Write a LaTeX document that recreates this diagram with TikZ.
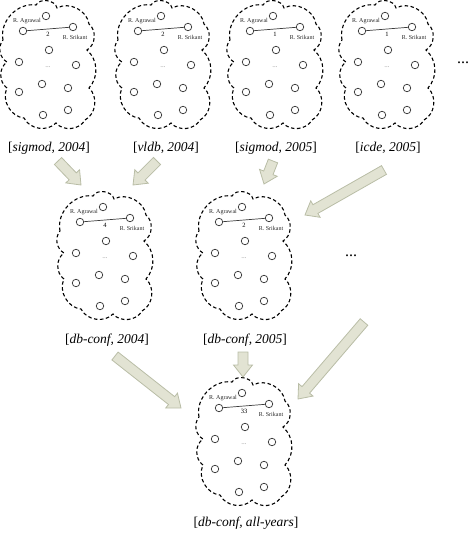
\documentclass[tikz,border=0pt]{standalone}
\usepackage{fontspec}
\setmainfont{Liberation Serif}
\usetikzlibrary{calc}
\definecolor{arrfill}{RGB}{226,227,211}
\definecolor{arrdraw}{RGB}{185,189,166}
\definecolor{nodegray}{RGB}{60,60,60}
\tikzset{
 vert/.style={circle,draw=nodegray,line width=0.75pt,inner sep=0pt,minimum size=7.5pt},
 cloudline/.style={draw=black,line width=1.1pt,dash pattern=on 3.5pt off 2.5pt},
 namelbl/.style={font=\fontsize{6}{6}\selectfont,text=black!85,inner sep=0pt},
 wlbl/.style={font=\fontsize{6.5}{6.5}\selectfont,inner sep=0pt},
 caption/.style={font=\fontsize{13.5}{15}\selectfont,inner sep=0pt},
 blockarrow/.style={fill=arrfill,draw=arrdraw,line width=0.8pt,line join=miter},
 bigdots/.style={font=\fontsize{16}{16}\selectfont,inner sep=0pt},
 smalldots/.style={font=\fontsize{7}{7}\selectfont,text=black!45,inner sep=0pt},
}
\newcommand\cloudgraph[4]{%
\begin{scope}[shift={(#2,#3)}]
 \draw[cloudline] (3,40) to[bend left=55] (36,5) to[bend left=70] (57,8) to[bend left=55] (89,24) to[bend left=55] (87,50) to[bend left=45] (89,88) to[bend left=55] (85,120) to[bend left=55] (56,123) to[bend left=55] (24,118) to[bend left=55] (7,88) to[bend left=55] (7,62) to[bend left=50] (3,40);
 \node[vert] (#1-a) at (23,31) {};
 \node[vert] (#1-s) at (73,27) {};
 \node[vert] (#1-t) at (46,16) {};
 \node[vert] (#1-c1) at (49,50) {};
 \node[vert] (#1-c2) at (19,62) {};
 \node[vert] (#1-c3) at (76,65) {};
 \node[vert] (#1-c4) at (42,84) {};
 \node[vert] (#1-c5) at (19,92) {};
 \node[vert] (#1-c6) at (68,88) {};
 \node[vert] (#1-c7) at (43,115) {};
 \node[vert] (#1-c8) at (68,110) {};
 \node[smalldots] (#1-d) at (48,67) {...};
 \node[namelbl] (#1-an) at (27,21) {R. Agrawal};
 \node[namelbl] (#1-sn) at (75,37) {R. Srikant};
 \draw[draw=nodegray,line width=0.7pt] (#1-a) -- (#1-s) node[wlbl,midway,below=2.5pt] (#1-w) {#4};
\end{scope}}
\newcommand\blockarr[2]{%
 \draw[blockarrow] ($(#1)!5pt!90:(#2)$) -- ($($(#2)!12pt!(#1)$)!5pt!90:(#2)$) -- ($($(#2)!12pt!(#1)$)!9.5pt!90:(#2)$) -- (#2) -- ($($(#2)!12pt!(#1)$)!9.5pt!-90:(#2)$) -- ($($(#2)!12pt!(#1)$)!5pt!-90:(#2)$) -- ($(#1)!5pt!-90:(#2)$) -- cycle;}
\begin{document}
\begin{tikzpicture}[x=1pt,y=-1pt]
\useasboundingbox (0,0) rectangle (474,538);
\cloudgraph{g1}{0}{0}{2}
\cloudgraph{g2}{115}{0}{2}
\cloudgraph{g3}{227}{0}{1}
\cloudgraph{g4}{339}{0}{1}
\cloudgraph{g5}{57}{191}{4}
\cloudgraph{g6}{196}{191}{2}
\cloudgraph{g7}{196}{377}{33}
\node[caption] (l1) at (49,148) {[\textit{sigmod, 2004}]};
\node[caption] (l2) at (166,148) {[\textit{vldb, 2004}]};
\node[caption] (l3) at (276,148) {[\textit{sigmod, 2005}]};
\node[caption] (l4) at (388,148) {[\textit{icde, 2005}]};
\node[caption] (l5) at (107,340) {[\textit{db-conf, 2004}]};
\node[caption] (l6) at (245,340) {[\textit{db-conf, 2005}]};
\node[caption] (l7) at (246,523) {[\textit{db-conf, all-years}]};
\node[bigdots] (dots1) at (463,63) {...};
\node[bigdots] (dots2) at (351,256) {...};
\coordinate (a1t) at (58,161); \coordinate (a1h) at (81,185);
\coordinate (a2t) at (157,161); \coordinate (a2h) at (133,185);
\coordinate (a3t) at (273,161); \coordinate (a3h) at (264,184);
\coordinate (a4t) at (384,170); \coordinate (a4h) at (305,215);
\coordinate (a5t) at (115,356); \coordinate (a5h) at (181,408);
\coordinate (a6t) at (243,352); \coordinate (a6h) at (243,377);
\coordinate (a7t) at (364,322); \coordinate (a7h) at (298,399);
\blockarr{a1t}{a1h}
\blockarr{a2t}{a2h}
\blockarr{a3t}{a3h}
\blockarr{a4t}{a4h}
\blockarr{a5t}{a5h}
\blockarr{a6t}{a6h}
\blockarr{a7t}{a7h}
\end{tikzpicture}
\end{document}
